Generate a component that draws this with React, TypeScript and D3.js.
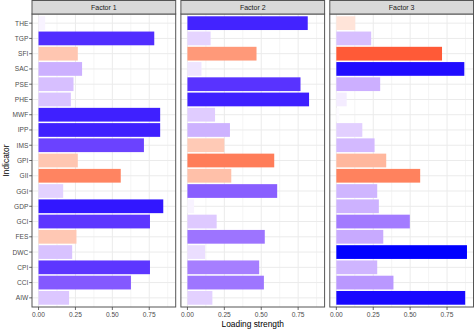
import React from "react";
import * as d3 from "d3";

const indicators = ["THE","TGP","SFI","SAC","PSE","PHE","MWF","IPP","IMS","GPI","GII","GGI","GDP","GCI","FES","DWC","CPI","CCI","AIW"];
const factorNames = ["Factor 1", "Factor 2", "Factor 3"];
const factor1 = [0.045, 0.784, -0.266, 0.295, 0.237, 0.219, 0.824, 0.824, 0.714, -0.266, -0.557, 0.167, 0.845, 0.755, -0.257, 0.228, 0.755, 0.626, 0.207];
const factor2 = [0.815, 0.157, -0.468, 0.095, 0.766, 0.824, 0.187, 0.288, -0.25, -0.588, -0.297, 0.608, 0.045, 0.198, 0.524, 0.12, 0.486, 0.518, 0.169];
const factor3 = [-0.128, 0.236, -0.716, 0.867, 0.297, 0.07, 0.02, 0.176, 0.259, -0.338, -0.568, 0.277, 0.288, 0.498, 0.318, 0.885, 0.277, 0.387, 0.873];
const xTicks = [0, 0.25, 0.5, 0.75];
const xMinor = [0.125, 0.375, 0.625, 0.875];

const FONT = "'Liberation Sans', Arial, sans-serif";

export default function App() {
  const W = 474, H = 330;
  const factors = [factor1, factor2, factor3];
  const all = factors.flat();
  const maxAbs = d3.max(all, (v) => Math.abs(v)) as number;

  const panelTop = 14, panelBottom = 307;
  const panelLeft0 = 32, panelW = 143.7, gap = 5.2;

  const y = d3.scaleBand<string>().domain(indicators).range([panelTop, panelBottom]).paddingInner(0.1).paddingOuter(0.15);
  const exp = maxAbs * 0.05;
  const blue = d3.interpolateLab("#ffffff", "#0000ff");
  const red = d3.interpolateLab("#ffffff", "#ff0000");
  const color = (v: number) => (v >= 0 ? blue(v / maxAbs) : red(-v / maxAbs));

  return (
    <svg width={W} height={H} style={{ position: "absolute", left: 0, top: 0, background: "#fff" }} fontFamily={FONT}>
      {factors.map((vals, fi) => {
        const x0 = panelLeft0 + fi * (panelW + gap);
        const x = d3.scaleLinear().domain([-exp, maxAbs + exp]).range([x0, x0 + panelW]);
        return (
          <g key={fi}>
            <rect x={x0} y={panelTop} width={panelW} height={panelBottom - panelTop} fill="#fff" />
            {xMinor.map((t) => (
              <line key={"m" + t} x1={x(t)} x2={x(t)} y1={panelTop} y2={panelBottom} stroke="#ebebeb" strokeWidth={0.5} />
            ))}
            {xTicks.map((t) => (
              <line key={"M" + t} x1={x(t)} x2={x(t)} y1={panelTop} y2={panelBottom} stroke="#ebebeb" strokeWidth={1} />
            ))}
            {indicators.map((ind) => (
              <line key={"h" + ind} x1={x0} x2={x0 + panelW} y1={(y(ind) as number) + y.bandwidth() / 2} y2={(y(ind) as number) + y.bandwidth() / 2} stroke="#ebebeb" strokeWidth={1} />
            ))}
            {indicators.map((ind, i) => (
              <rect key={"b" + ind} x={x(0)} y={y(ind)} width={x(Math.abs(vals[i])) - x(0)} height={y.bandwidth()} fill={color(vals[i])} />
            ))}
            <rect x={x0} y={panelTop} width={panelW} height={panelBottom - panelTop} fill="none" stroke="#555" strokeWidth={1} />
            <rect x={x0} y={0.5} width={panelW} height={panelTop - 0.5} fill="#d9d9d9" stroke="#555" strokeWidth={1} />
            <text x={x0 + panelW / 2} y={panelTop / 2 + 0.5} textAnchor="middle" dominantBaseline="central" fontSize={7} fill="#1a1a1a">{factorNames[fi]}</text>
            {xTicks.map((t) => (
              <g key={"t" + t}>
                <line x1={x(t)} x2={x(t)} y1={panelBottom} y2={panelBottom + 3} stroke="#444" strokeWidth={0.8} />
                <text x={x(t)} y={314.5} textAnchor="middle" dominantBaseline="central" fontSize={6.6} fill="#4d4d4d">{d3.format(".2f")(t)}</text>
              </g>
            ))}
          </g>
        );
      })}
      {indicators.map((ind) => {
        const cy = (y(ind) as number) + y.bandwidth() / 2;
        return (
          <g key={"yl" + ind}>
            <line x1={29.2} x2={panelLeft0} y1={cy} y2={cy} stroke="#444" strokeWidth={0.8} />
            <text x={28.3} y={cy} textAnchor="end" dominantBaseline="central" fontSize={6.6} fill="#4d4d4d">{ind}</text>
          </g>
        );
      })}
      <text x={(panelLeft0 + panelLeft0 + 3 * panelW + 2 * gap) / 2} y={327} textAnchor="middle" fontSize={8.4} fill="#000">Loading strength</text>
      <text transform={`translate(8.5, ${(panelTop + panelBottom) / 2}) rotate(-90)`} textAnchor="middle" fontSize={8.4} fill="#000">Indicator</text>
    </svg>
  );
}
